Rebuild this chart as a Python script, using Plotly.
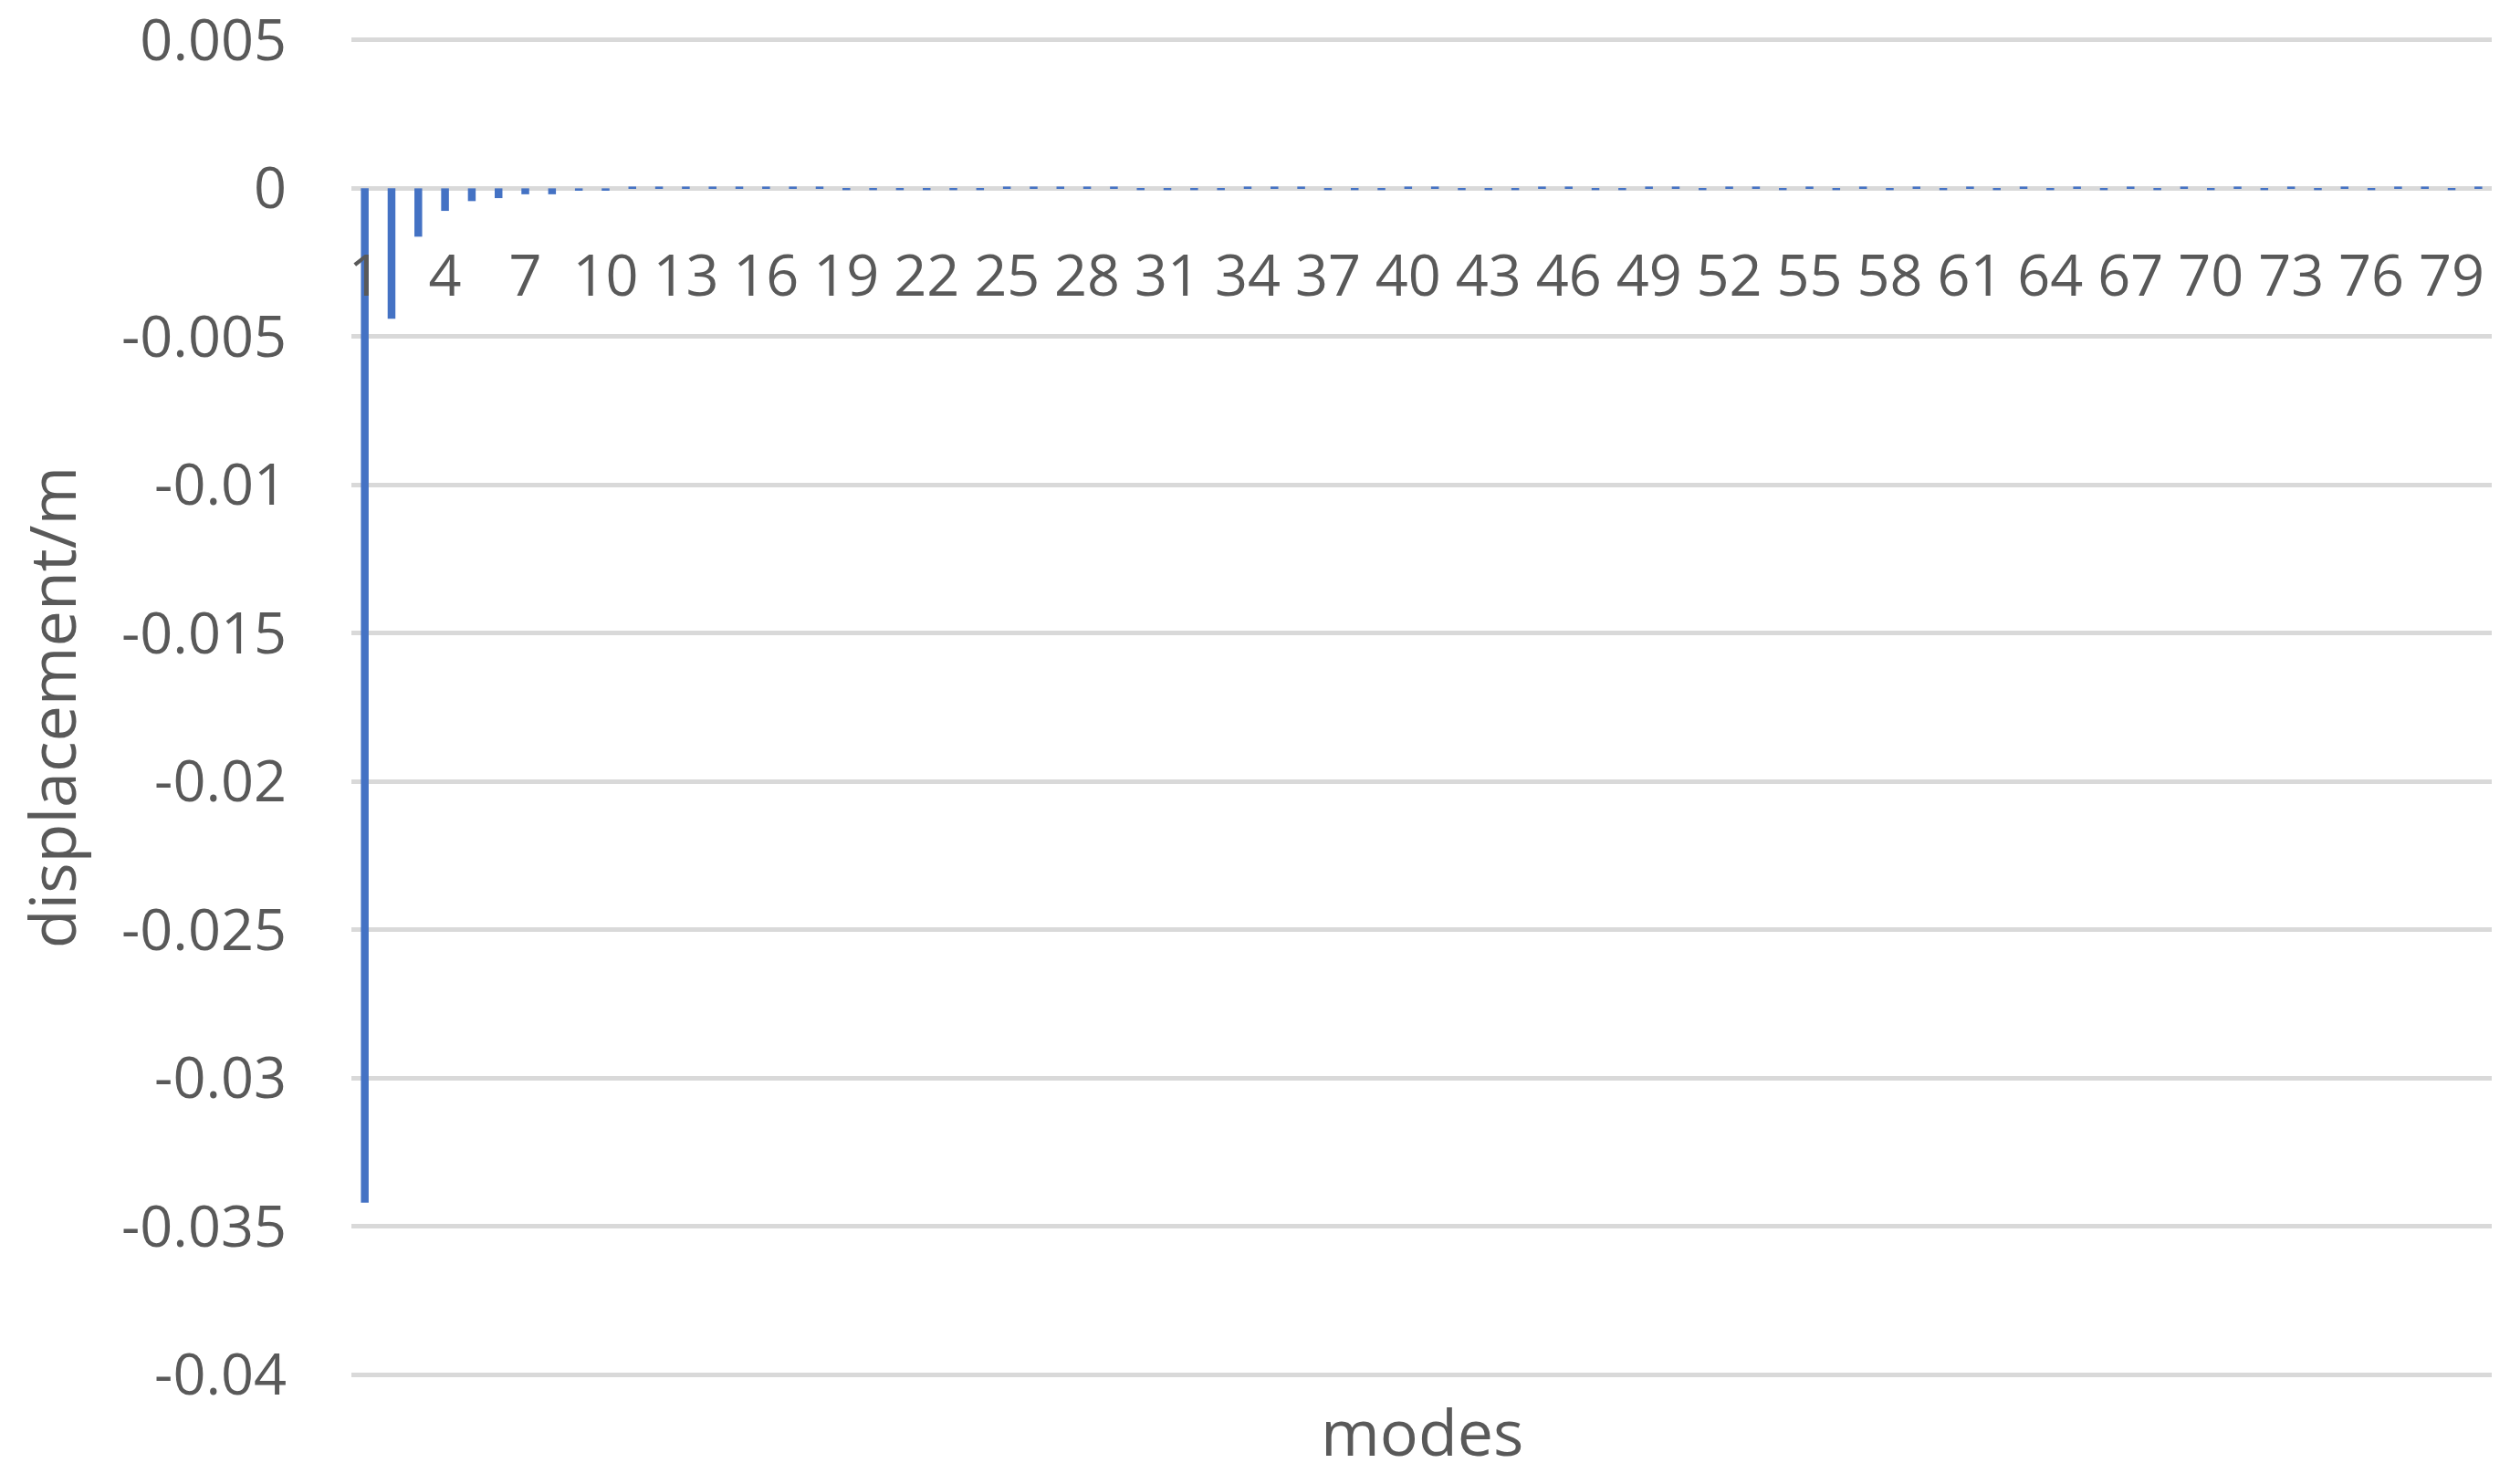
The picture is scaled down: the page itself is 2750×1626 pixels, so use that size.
import plotly.graph_objects as go

# Data
modes = list(range(1, 81))
displacement = [
    -0.0342, -0.0044, -0.00163, -0.00076, -0.00043, -0.00033, -0.0002, -0.0002, -0.00008, -0.00008,
    0.00006, 0.00006, 0.00006, 0.00006, 0.00006, 0.00006, 0.00006, 0.00006, -0.00006, -0.00006,
    -0.00006, -0.00006, -0.00006, -0.00006, 0.00006, 0.00006, 0.00006, 0.00006, 0.00006, -0.00006,
    -0.00006, -0.00006, -0.00006, 0.00006, 0.00006, 0.00006, -0.00006, -0.00006, -0.00006, 0.00006,
    0.00006, -0.00006, -0.00006, -0.00006, 0.00006, 0.00006, -0.00006, -0.00006, 0.00006, 0.00006,
    -0.00006, 0.00006, 0.00006, -0.00006, 0.00006, -0.00006, 0.00006, -0.00006, 0.00006, -0.00006,
    0.00006, -0.00006, 0.00006, -0.00006, 0.00006, -0.00006, 0.00006, -0.00006, 0.00006, -0.00006,
    0.00006, -0.00006, 0.00006, -0.00006, 0.00006, -0.00006, 0.00006, 0.00006, -0.00006, 0.00006,
]
x_tick_vals = list(range(1, 81, 3))
y_tick_vals = [0.005, 0, -0.005, -0.01, -0.015, -0.02, -0.025, -0.03, -0.035, -0.04]
y_tick_text = ["0.005", "0", "-0.005", "-0.01", "-0.015", "-0.02", "-0.025", "-0.03", "-0.035", "-0.04"]
x_title = "modes"
y_title = "displacement/m"

FONT = "Open Sans"
FS = 63
FT = 70
TXT = "#595959"
GRID = "#d9d9d9"

W, H = 2750, 1626
ML, MR, MT, MB = 385, 20, 40, 116
ymin, ymax = -0.04012, 0.00512

fig = go.Figure()
fig.add_trace(go.Bar(
    x=modes, y=displacement, width=0.29,
    marker=dict(color="#4472C4", line=dict(width=0)),
))

fig.update_layout(
    width=W, height=H,
    margin=dict(l=ML, r=MR, t=MT, b=MB, pad=0, autoexpand=False),
    paper_bgcolor="white", plot_bgcolor="white",
    font=dict(family=FONT, size=FS, color=TXT),
    showlegend=False,
    xaxis=dict(
        range=[0.5, 80.5], tickmode="array", tickvals=x_tick_vals,
        showgrid=False, zeroline=False, showline=False, ticks="",
        anchor="free", position=(0 - ymin) / (ymax - ymin),
        ticklabelstandoff=54, automargin=False, ticklabeloverflow="allow",
        tickfont=dict(family=FONT, size=FS, color=TXT),
    ),
    yaxis=dict(
        range=[ymin, ymax], tickmode="array", tickvals=y_tick_vals, ticktext=y_tick_text,
        showgrid=True, gridcolor=GRID, gridwidth=5,
        zeroline=True, zerolinecolor=GRID, zerolinewidth=5,
        showline=False, ticks="", ticklabelstandoff=70, automargin=False,
        ticklabeloverflow="allow",
        tickfont=dict(family=FONT, size=FS, color=TXT),
        title=dict(text=y_title, font=dict(family=FONT, size=FT, color=TXT), standoff=26),
    ),
    annotations=[dict(
        text=x_title, xref="paper", yref="paper", x=0.5, y=0,
        xanchor="center", yanchor="middle", yshift=-58, showarrow=False,
        font=dict(family=FONT, size=FT, color=TXT),
    )],
)

fig.write_html("out.html", config={"displayModeBar": False},
               post_script="document.body.style.margin='0';")
